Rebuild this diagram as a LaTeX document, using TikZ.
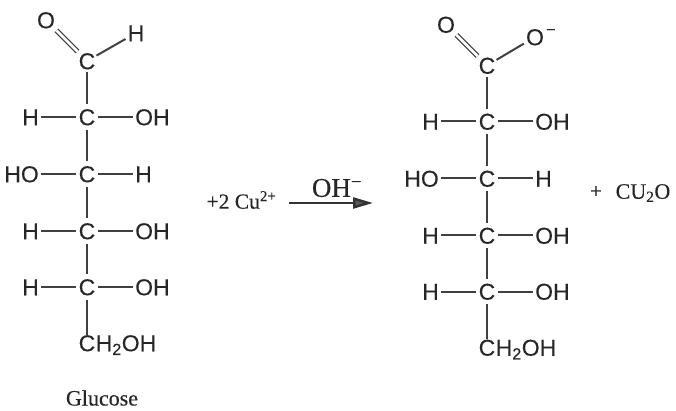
\documentclass[tikz,border=0pt]{standalone}
\usepackage{fontspec}
\setmainfont[FakeBold=0.3]{Liberation Serif}
\newfontfamily\atomfont[FakeBold=0.3]{Liberation Sans}
\usetikzlibrary{arrows.meta}
\tikzset{
	atom/.style = {font=\atomfont\fontsize{23}{23}\selectfont, text=black!85, text height=16.5pt, text depth=0pt, inner sep=2pt},
	carbon/.style = {atom, inner xsep=2.7pt, inner ysep=4.5pt},
	bond/.style = {line width=2pt, draw=black!75},
	label/.style = {text=black!85, inner sep=0pt}
}
\begin{document}
\begin{tikzpicture}[x=1pt,y=-1pt]
	\useasboundingbox (0,0) rectangle (676,411);
	\foreach \p/\dx/\dy in {g/0/0,a/400/4.5}{
		\begin{scope}[shift={(\dx,\dy)}]
			\node [carbon, inner sep=1pt] (\p c1) at (87,61) {C};
			\node [atom] (\p o) at (46,20) {O};
			\draw [bond, double, double distance=2.5pt, line width=1.3pt] (\p o) -- (\p c1);
			\foreach \i/\y/\a/\b in {2/117/H/OH,3/174/HO/H,4/231/H/OH,5/287/H/OH}{
				\node [carbon] (\p c\i) at (87,\y) {C};
				\node [atom, anchor=east] (\p l\i) at (41,\y) {\a};
				\node [atom, anchor=west] (\p r\i) at (133,\y) {\b};
				\draw [bond] (\p l\i) -- (\p c\i);
				\draw [bond] (\p c\i) -- (\p r\i);
			}
			\node [atom, inner sep=0pt] (\p c6) at (87,343) {C};
			\node [atom, anchor=base west, inner sep=0pt] (\p t) at (\p c6.base east) {H\textsubscript{2}OH};
			\foreach \i/\j in {2/3,3/4,4/5,5/6}{
				\draw [bond] (\p c\i) -- (\p c\j);
			}
			\draw [bond] (\p c1.south) ++(0,2) -- (\p c2);
		\end{scope}
	}
	\node [atom] (gh) at (136,33) {H};
	\draw [bond] (gc1) -- (gh);
	\node [atom] (ao) at (535,37) {O};
	\node [label, font=\atomfont\fontsize{16}{16}\selectfont, anchor=west] (am) at (546,32) {−};
	\draw [bond] (ac1) -- (ao);
	\node [label, font=\fontsize{21.5}{21.5}\selectfont] (cu) at (241.5,200) {+2 Cu\textsuperscript{2+}};
	\node [label, font=\fontsize{27}{27}\selectfont] (oh) at (337,188) {OH\textsuperscript{−}};
	\coordinate (st) at (289,203);
	\coordinate (en) at (373,203);
	\draw [line width=2.5pt, draw=black!80, -{Triangle[length=20pt,width=11pt,fill=black!65]}] (st) -- (en);
	\node [label, font=\fontsize{21}{21}\selectfont] (pl) at (596,192) {+};
	\node [label, font=\fontsize{22}{22}\selectfont] (cuo) at (643,193) {CU\textsubscript{2}O};
	\node [label, font=\fontsize{22}{22}\selectfont] (gl) at (102,398) {Glucose};
\end{tikzpicture}
\end{document}
